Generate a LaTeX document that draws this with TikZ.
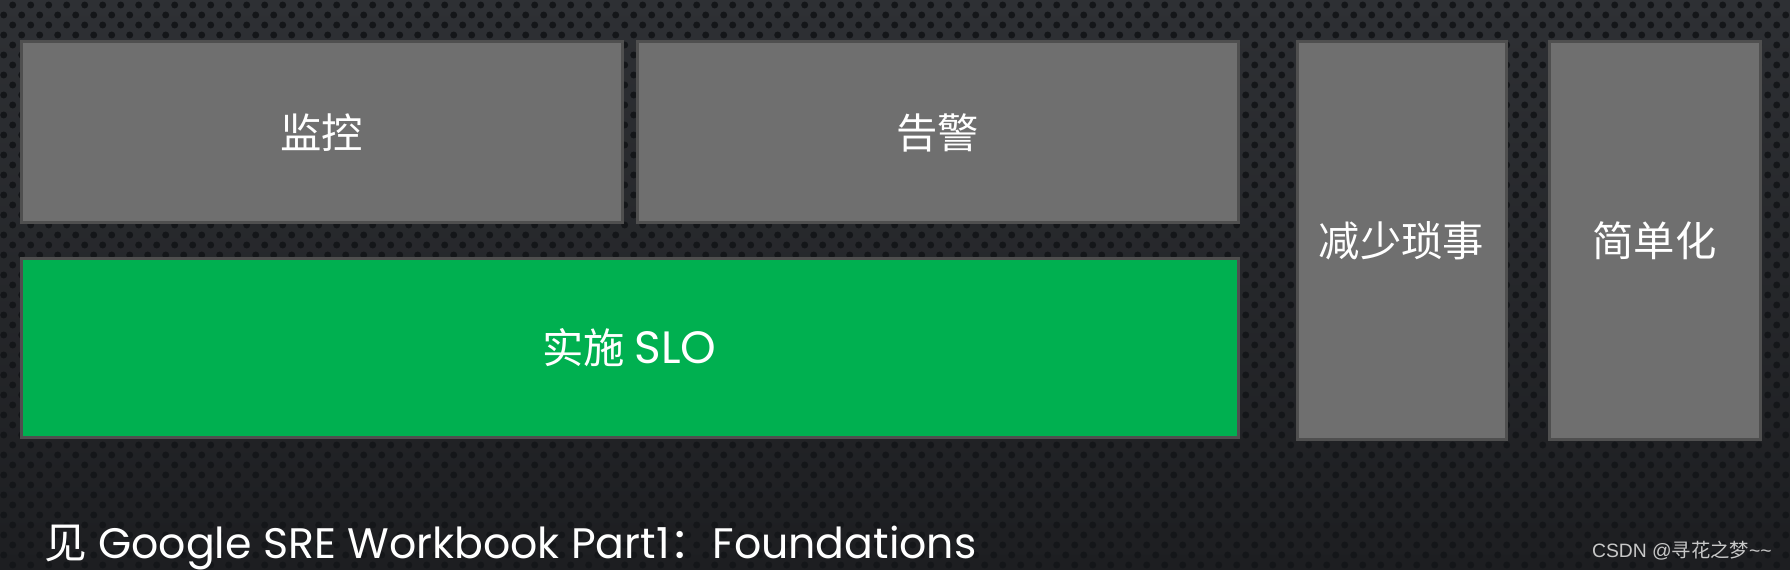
\documentclass[tikz,border=0pt]{standalone}
\usepackage{fontspec}
\setmainfont{Poppins}
\newfontfamily\cjk{Noto Sans CJK SC}
\newfontfamily\lib{Liberation Sans}
\definecolor{bgtop}{HTML}{2E3034}
\definecolor{bgbot}{HTML}{1D1E21}
\definecolor{dotc}{HTML}{141619}
\definecolor{boxfill}{HTML}{6F6F6F}
\definecolor{boxline}{HTML}{4F4F4F}
\definecolor{slogreen}{HTML}{00B050}
\definecolor{wmark}{HTML}{C8C8C8}
\tikzset{
  tile/.style={draw=boxline, line width=2.25pt, fill=boxfill, inner sep=0pt, outer sep=0pt,
    text=white, font=\cjk\fontsize{31}{36}\selectfont},
  greentile/.style={tile, fill=slogreen},
}
\begin{document}
\begin{tikzpicture}[x=0.75pt, y=-0.75pt]
\useasboundingbox (0,0) rectangle (1790,570);
\shade[top color=bgtop, bottom color=bgbot] (0,0) rectangle (1790,570);
\begin{scope}
\clip (0,0) rectangle (1790,570);
\foreach \r in {0,...,57} {
  \pgfmathsetmacro{\xo}{12.7 - 9*mod(\r,2)}
  \pgfmathsetmacro{\yo}{5 + 10*\r}
  \fill[dotc] \foreach \c in {0,...,100} {
    ({\xo + 18*\c}, \yo) circle[radius=2.6pt]
  };
}
\end{scope}
\node[tile, minimum width=450.75pt, minimum height=135.75pt] (mon) at (321.5,132.5) {监控};
\node[tile, minimum width=450.75pt, minimum height=135.75pt] (alert) at (937.5,132.5) {告警};
\node[greentile, minimum width=912.75pt, minimum height=134.25pt] (slo) at (629.5,347.5)
  {实施 {\rmfamily\fontsize{34}{40}\selectfont SLO}};
\node[tile, minimum width=156.75pt, minimum height=297.75pt] (toil) at (1401.5,240.5) {减少琐事};
\node[tile, minimum width=158.25pt, minimum height=297.75pt] (simp) at (1654.5,240.5) {简单化};
\node[anchor=base west, inner sep=0pt, text=white, font=\fontsize{32}{38}\selectfont] (foot) at (44,558)
  {{\cjk 见} Google SRE Workbook Part1{\cjk ：}Foundations};
\node[anchor=base east, inner sep=0pt, text=wmark, font=\lib\fontsize{14.5}{16}\selectfont] (wm) at (1772,557)
  {CSDN @{\cjk 寻花之梦}\textasciitilde\textasciitilde};
\end{tikzpicture}
\end{document}
